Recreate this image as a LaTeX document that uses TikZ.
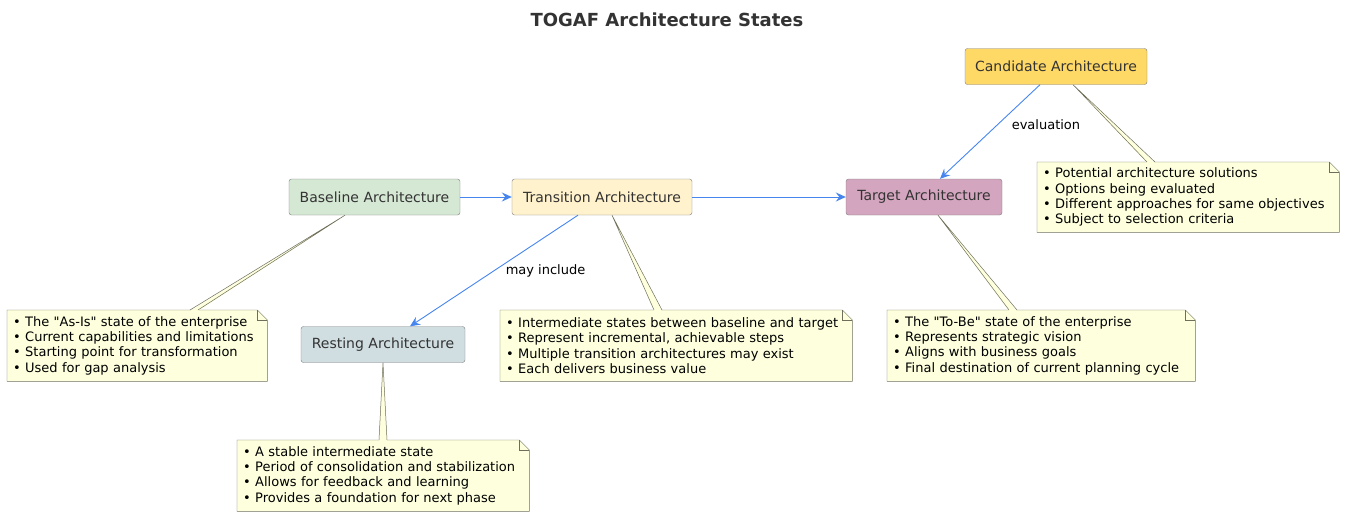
\documentclass[tikz,border=0pt]{standalone}
\usepackage{fontspec}
\setmainfont{DejaVu Sans}[Ligatures=TeXOff]
\usetikzlibrary{arrows.meta, positioning, calc}
\definecolor{baselinegreen}{RGB}{213,232,212}
\definecolor{transitionyellow}{RGB}{255,242,204}
\definecolor{targetpink}{RGB}{212,165,190}
\definecolor{candidategold}{RGB}{255,217,102}
\definecolor{restinggray}{RGB}{208,222,226}
\definecolor{notefill}{RGB}{254,255,221}
\definecolor{noteline}{RGB}{110,110,90}
\definecolor{edgeblue}{RGB}{70,133,238}
\definecolor{textgray}{RGB}{51,51,51}
\definecolor{boxline}{RGB}{125,125,125}

\begin{document}
\begin{tikzpicture}[
    x=1pt, y=-1pt,
    >={Stealth[length=10pt, width=9pt, inset=3.5pt]},
    state/.style={draw=boxline, rounded corners=2.5pt, minimum height=36pt, inner xsep=0pt, font=\fontsize{14}{16}\selectfont, text=textgray},
    note/.style={anchor=north west, fill=notefill, align=left, inner xsep=6pt, inner ysep=5pt, minimum height=71pt, font=\fontsize{13}{15.3}\selectfont},
    flow/.style={->, draw=edgeblue, line width=0.9pt},
    lbl/.style={font=\fontsize{13}{15}\selectfont, anchor=west},
]
    \useasboundingbox (0,0) rectangle (1345,517);

    % Title
    \node[font=\fontsize{18}{21}\selectfont\bfseries, text=textgray] (title) at (667,20) {TOGAF Architecture States};

    % States
    \node[state, fill=baselinegreen, minimum width=171pt] (baseline) at (374.5,197) {Baseline Architecture};
    \node[state, fill=transitionyellow, minimum width=180pt] (transition) at (602,197) {Transition Architecture};
    \node[state, fill=targetpink, minimum width=156pt] (target) at (924,197) {Target Architecture};
    \node[state, fill=candidategold, minimum width=182pt] (candidate) at (1056,66.5) {Candidate Architecture};
    \node[state, fill=restinggray, minimum width=164pt] (resting) at (383,344.5) {Resting Architecture};

    % Notes
    \node[note, text width=248pt] (baselinenote) at (7,310) {• The "As-Is" state of the enterprise\\• Current capabilities and limitations\\• Starting point for transformation\\• Used for gap analysis};
    \node[note, text width=280pt] (restingnote) at (237,440) {• A stable intermediate state\\• Period of consolidation and stabilization\\• Allows for feedback and learning\\• Provides a foundation for next phase};
    \node[note, text width=340pt] (transitionnote) at (500,310) {• Intermediate states between baseline and target\\• Represent incremental, achievable steps\\• Multiple transition architectures may exist\\• Each delivers business value};
    \node[note, text width=296pt] (targetnote) at (887,310) {• The "To-Be" state of the enterprise\\• Represents strategic vision\\• Aligns with business goals\\• Final destination of current planning cycle};
    \node[note, text width=290pt, minimum height=70pt] (candidatenote) at (1037,162) {• Potential architecture solutions\\• Options being evaluated\\• Different approaches for same objectives\\• Subject to selection criteria};

    % Note outlines with folded corner
    \foreach \n in {baselinenote, restingnote, transitionnote, targetnote, candidatenote} {
        \fill[white] ([xshift=-10pt]\n.north east) -- (\n.north east) -- ([yshift=-10pt]\n.north east) -- cycle;
        \draw[noteline] (\n.north west) -- ([xshift=-10pt]\n.north east) -- ([yshift=-10pt]\n.north east) -- (\n.south east) -- (\n.south west) -- cycle;
        \draw[noteline] ([xshift=-10pt]\n.north east) -- ([xshift=-10pt, yshift=-10pt]\n.north east) -- ([yshift=-10pt]\n.north east);
    }

    % Note links
    \foreach \st/\dx/\nt/\bx in {baseline/-29.5/baselinenote/183, resting/0/restingnote/142, transition/10/transitionnote/154, target/14/targetnote/122, candidate/17/candidatenote/110} {
        \fill[notefill] ([xshift=\dx pt]\st.south) -- ($(\nt.north west)+(\bx,1)$) -- ($(\nt.north west)+(\bx+8,1)$) -- cycle;
        \draw[noteline, line width=0.5pt] ($(\nt.north west)+(\bx,0)$) -- ([xshift=\dx pt]\st.south) -- ($(\nt.north west)+(\bx+8,0)$);
    }

    % Transitions
    \draw[flow] (baseline) -- (transition);
    \draw[flow] (transition) -- (target);
    \draw[flow] ([xshift=-16pt]candidate.south) -- node[lbl, pos=0.42, xshift=10pt] {evaluation} ([xshift=16pt]target.north);
    \draw[flow] ([xshift=-24pt]transition.south) -- node[lbl, pos=0.5, xshift=8pt] {may include} ([xshift=27pt]resting.north);
\end{tikzpicture}
\end{document}
